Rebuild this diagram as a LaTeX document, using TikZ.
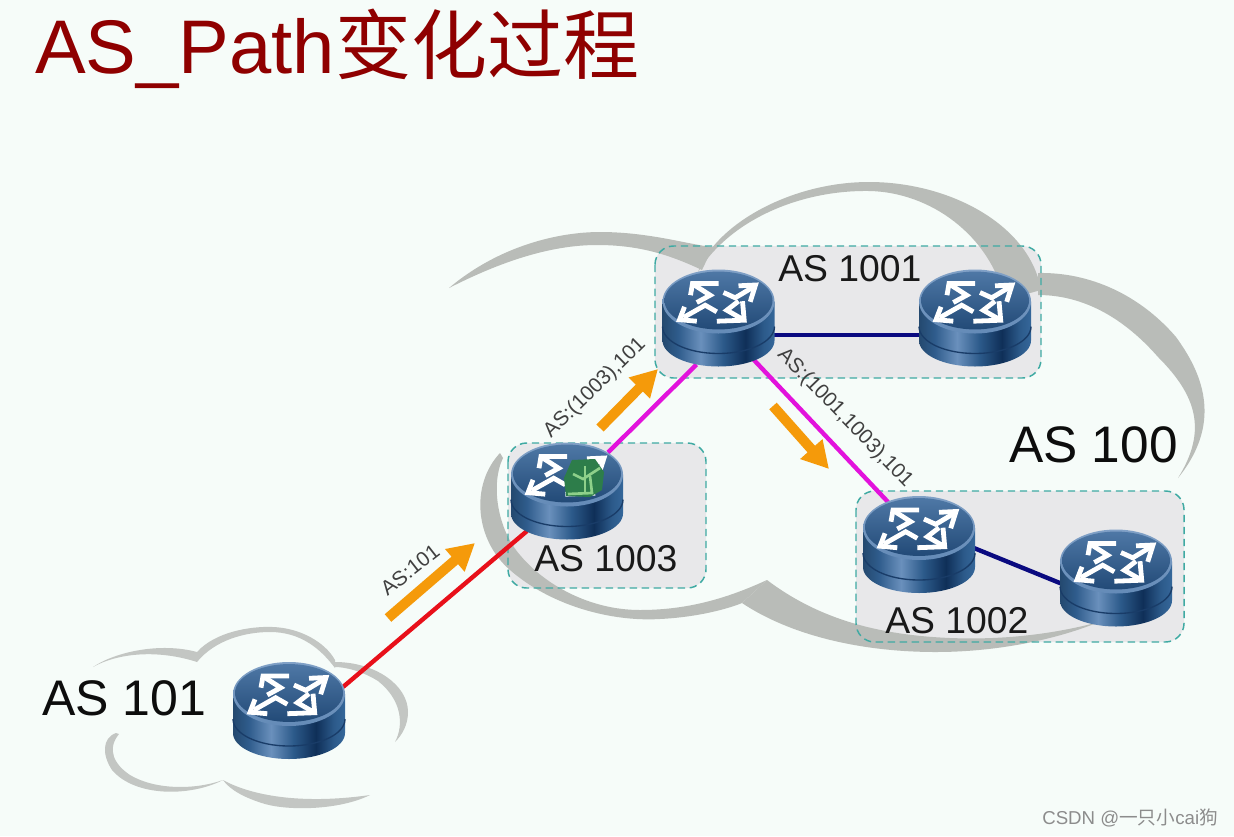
\documentclass[tikz,border=0pt]{standalone}
\usepackage{fontspec}
\setmainfont{Liberation Sans}
\newfontfamily\cjk{Noto Sans CJK SC}
\usetikzlibrary{arrows.meta}
\definecolor{bgc}{HTML}{F6FCF9}
\definecolor{cloudc}{HTML}{B9BCB8}
\definecolor{boxc}{HTML}{E8E8EA}
\definecolor{dashc}{HTML}{3FAAA3}
\definecolor{orangec}{HTML}{F59A0A}
\definecolor{magc}{HTML}{E212DC}
\definecolor{navyc}{HTML}{0A0A80}
\definecolor{redc}{HTML}{E8101A}
\definecolor{titlec}{HTML}{8F0000}
\definecolor{greenp}{HTML}{2D7D4A}
\definecolor{greenl}{HTML}{8ED08A}
\definecolor{rs1}{HTML}{24496F}
\definecolor{rs2}{HTML}{2F5C8C}
\definecolor{rs3}{HTML}{6A90BC}
\definecolor{rs4}{HTML}{2C5A8A}
\definecolor{rs5}{HTML}{0F2F58}
\definecolor{rs6}{HTML}{35679A}
\pgfdeclarehorizontalshading{routerside}{100bp}{
 color(0bp)=(rs1);
 color(25bp)=(rs1); color(32bp)=(rs2); color(42bp)=(rs3); color(52bp)=(rs4);
 color(62bp)=(rs5); color(70bp)=(rs4); color(75bp)=(rs6); color(100bp)=(rs6)}
\tikzset{
 x=0.75pt,y=-0.75pt,
 rnode/.style={shape=rectangle,minimum width=84.75pt,minimum height=72.75pt,inner sep=0pt},
 boxfill/.style={fill=boxc,rounded corners=14pt},
 boxline/.style={draw=dashc,line width=1.1pt,dash pattern=on 5.5pt off 3.5pt,rounded corners=14pt},
 crescent/.style={fill=cloudc},
 thincloud/.style={fill=cloudc!85!white},
 link/.style={line width=3.3pt},
 flow/.style={draw=orangec,line width=7.5pt,-{Triangle[length=20pt,width=21pt]}},
 aslabel/.style={font=\fontsize{28}{30}\selectfont,text=black!90,inner sep=0pt},
 aslarge/.style={font=\fontsize{38.5}{40}\selectfont,text=black!95,inner sep=0pt},
 pathlabel/.style={font=\fontsize{15.5}{18}\selectfont,text=black!75,inner sep=0pt},
 icon/.style={draw=white,line width=3.6pt,miter limit=4},
 router/.pic={
  \shade[shading=routerside]
    (-56,-17) -- (-56,22) .. controls (-56,36.4) and (-31,48) .. (0,48)
    .. controls (31,48) and (56,36.4) .. (56,22) -- (56,-17) -- cycle;
  \draw[draw=rs5!70!rs2,line width=1pt]
    (-56,8) .. controls (-56,23) and (-31,35) .. (0,35)
    .. controls (31,35) and (56,23) .. (56,8);
  \shade[top color=rs3!85!white,bottom color=rs3!90!rs2] (0,-17) ellipse [x radius=42pt,y radius=24pt];
  \shade[top color=rs3!55!rs4,bottom color=rs2!60!rs5] (0,-18) ellipse [x radius=40.5pt,y radius=21.7pt];
  \draw[icon] (5,-26) -- (16.7,-20.7) -- (34,-31);
  \draw[icon] (20,-32.7) -- (37,-33.5) -- (31.7,-16.7);
  \draw[icon] (-1.7,-6.7) -- (-13.3,-13.3) -- (-35,-1);
  \draw[icon] (-34,-11.7) -- (-39,1.2) -- (-21.7,2.7);
  \draw[icon] (0,-35) -- (-26,-35) -- (-28,-23.3);
  \draw[icon] (-25,-34) -- (-8.3,-23.3) -- (-21.7,-16);
  \draw[icon] (-1.7,2.7) -- (25.7,1.7) -- (24,-17.3);
  \draw[icon] (24,0.7) -- (8.3,-8.3) -- (20,-17.3);
 }
}
\begin{document}
\begin{tikzpicture}
\fill[bgc] (0,0) rectangle (1234,836);
\useasboundingbox (0,0) rectangle (1234,836);

% box fills
\path[boxfill] (655,246) rectangle (1041,378);
\path[boxfill] (508,443) rectangle (706,588);
\path[boxfill] (856,491) rectangle (1184,642);

% big cloud
\fill[crescent] (449,288) .. controls (500,245) and (560,232) .. (600,232)
  .. controls (650,232) and (690,245) .. (713,247) -- (702,270)
  .. controls (670,255) and (640,245) .. (597,245)
  .. controls (550,245) and (500,262) .. (449,288) -- cycle;
\fill[crescent] (698,272) .. controls (715,225) and (790,182) .. (869,182)
  .. controls (950,182) and (1030,225) .. (1041,290) -- (1005,300)
  .. controls (990,235) and (930,192) .. (869,191)
  .. controls (800,190) and (730,220) .. (698,272) -- cycle;
\fill[crescent] (1038,273) .. controls (1090,272) and (1140,295) .. (1176,337)
  .. controls (1200,370) and (1225,420) .. (1178,478)
  .. controls (1208,430) and (1196,395) .. (1158,357)
  .. controls (1130,325) and (1090,295) .. (1038,295) -- cycle;
\fill[crescent] (500,453) .. controls (470,485) and (475,540) .. (510,570)
  .. controls (550,605) and (610,622) .. (660,619)
  .. controls (700,617) and (730,608) .. (742,603) -- (767,580)
  .. controls (730,597) and (690,610) .. (640,610)
  .. controls (590,610) and (545,585) .. (520,555)
  .. controls (498,530) and (490,485) .. (503,458) -- cycle;
\fill[crescent] (742,603) .. controls (790,635) and (860,652) .. (936,652)
  .. controls (990,652) and (1050,642) .. (1099,622)
  .. controls (1050,635) and (1000,640) .. (950,638)
  .. controls (880,635) and (820,620) .. (767,580) -- cycle;

% small cloud
\fill[thincloud] (93,667) .. controls (115,652) and (160,642) .. (197,652) -- (197,662)
  .. controls (160,650) and (120,652) .. (93,667) -- cycle;
\fill[thincloud] (197,652) .. controls (215,632) and (250,626) .. (273,627)
  .. controls (300,628) and (325,642) .. (335,660) -- (335,668)
  .. controls (320,648) and (300,632) .. (270,632)
  .. controls (245,632) and (215,640) .. (197,662) -- cycle;
\fill[thincloud] (335,662) .. controls (375,662) and (408,685) .. (408,712)
  .. controls (408,725) and (402,735) .. (395,742)
  .. controls (404,725) and (402,700) .. (378,681)
  .. controls (362,671) and (345,667) .. (335,667) -- cycle;
\fill[thincloud] (370,795) .. controls (340,810) and (290,811) .. (265,804)
  .. controls (245,798) and (230,790) .. (223,780)
  .. controls (250,795) and (300,805) .. (370,795) -- cycle;
\fill[thincloud] (223,780) .. controls (190,797) and (135,797) .. (112,770)
  .. controls (102,755) and (102,738) .. (116,733) -- (119,734)
  .. controls (106,750) and (115,765) .. (130,775)
  .. controls (155,790) and (195,790) .. (223,780) -- cycle;

% box outlines
\path[boxline] (655,246) rectangle (1041,378);
\path[boxline] (508,443) rectangle (706,588);
\path[boxline] (856,491) rectangle (1184,642);

% router nodes
\node[rnode] (r101) at (289,711) {};
\node[rnode] (r1003) at (567,491.5) {};
\node[rnode] (r1001a) at (718.5,318.5) {};
\node[rnode] (r1001b) at (975,318.5) {};
\node[rnode] (r1002a) at (919,545) {};
\node[rnode] (r1002b) at (1116,578.5) {};

% links
\draw[link,redc] ([shift={(54,-24)}]r101.center) -- ([shift={(-40,39.5)}]r1003.center);
\draw[link,magc] ([shift={(41,-39)}]r1003.center) -- ([shift={(-22,46)}]r1001a.center);
\draw[link,magc] ([shift={(35,41)}]r1001a.center) -- ([shift={(-31,-43)}]r1002a.center);
\draw[link,navyc] ([shift={(50,16.5)}]r1001a.center) -- ([shift={(-50,16.5)}]r1001b.center);
\draw[link,navyc] ([shift={(50,1)}]r1002a.center) -- ([shift={(-50,7)}]r1002b.center);

% routers
\pic at (r101.center) {router};
\pic at (r1003.center) {router};
\pic at (r1001a.center) {router};
\pic at (r1001b.center) {router};
\pic at (r1002a.center) {router};
\pic at (r1002b.center) {router};

% green artefact on AS 1003 router
\fill[greenp] (572,460) -- (595,459) -- (604,472) -- (602,490) -- (590,497) -- (566,496) -- (564,478) -- cycle;
\draw[greenl,line width=2pt] (573,474) -- (583,479) -- (600,468);
\draw[greenl,line width=2pt] (568,494) -- (592,493) -- (590,476);
\draw[greenl,line width=1.3pt] (585,466) -- (585,494);

% flow arrows
\coordinate (f1a) at (388,618); \coordinate (f1b) at (475,543);
\coordinate (f2a) at (600,428); \coordinate (f2b) at (658,369);
\coordinate (f3a) at (773,406); \coordinate (f3b) at (829,469);
\draw[flow] (f1a) -- (f1b);
\draw[flow] (f2a) -- (f2b);
\draw[flow] (f3a) -- (f3b);

% labels
\node[aslabel,anchor=base west] (l1001) at (778,281) {AS 1001};
\node[aslabel,anchor=base west] (l1003) at (534,571) {AS 1003};
\node[aslabel,anchor=base west] (l1002) at (885,633) {AS 1002};
\node[aslarge,anchor=base west] (l100) at (1009,462) {AS 100};
\node[aslarge,anchor=base west,font=\fontsize{37.5}{40}\selectfont] (l101) at (42,715) {AS 101};
\node[pathlabel,rotate=38] (p1) at (410,570) {AS:101};
\node[pathlabel,rotate=44.5] (p2) at (595,388) {AS:(1003),101};
\node[pathlabel,rotate=-46] (p3) at (845,418) {AS:(1001,1003),101};

% title
\node[anchor=base west,inner sep=0pt,text=titlec,font=\fontsize{57}{60}\selectfont] (title) at (35,73) {AS\_Path{\cjk 变化过程}};
% watermark
\node[anchor=base west,inner sep=0pt,text=black!45,font=\fontsize{14}{16}\selectfont] (mark) at (1042,824) {CSDN @{\cjk 一只小}cai{\cjk 狗}};
\end{tikzpicture}
\end{document}
